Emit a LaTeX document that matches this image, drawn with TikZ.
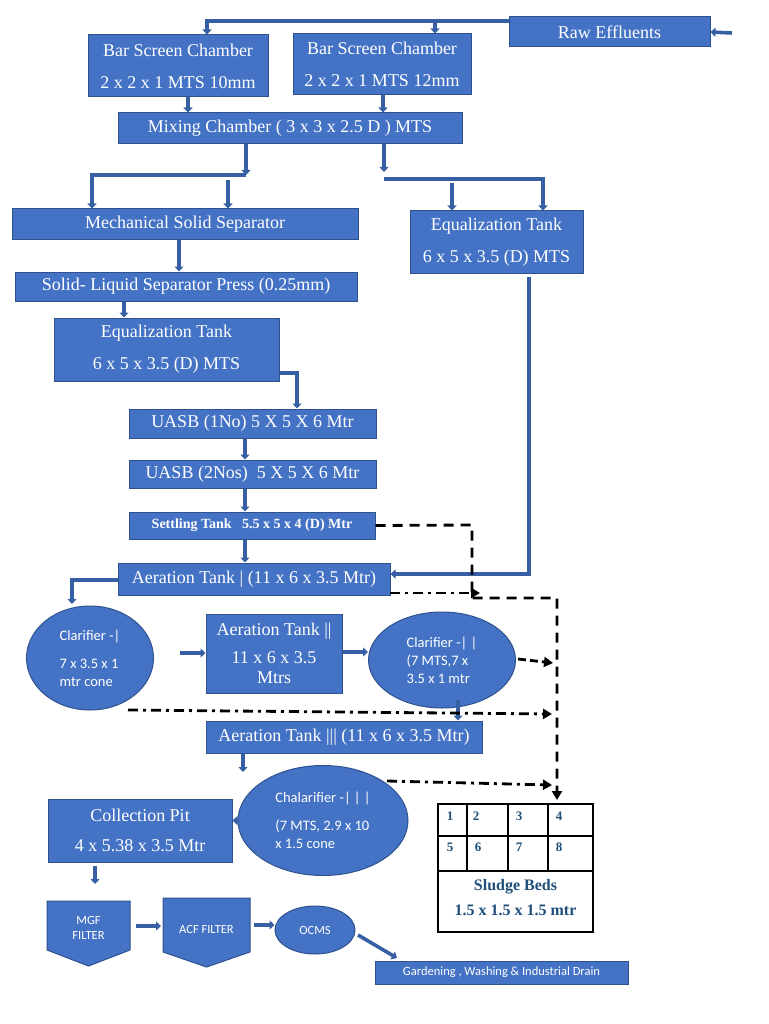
\documentclass[tikz,border=0pt]{standalone}
\usepackage{fontspec}
\setmainfont{Liberation Serif}
\newfontfamily\sansf{Carlito}
\usetikzlibrary{arrows.meta,shapes.geometric,calc}
\definecolor{bfill}{HTML}{4472C4}
\definecolor{bedge}{HTML}{2F528F}
\definecolor{dblue}{HTML}{1F4E79}
\begin{document}
\begin{tikzpicture}[x=1pt,y=-1pt,
  box/.style={draw=bedge,line width=1pt,fill=bfill,text=white,font=\fontsize{18}{20}\selectfont,inner sep=0pt,align=center},
  ell/.style={ellipse,draw=bedge,line width=1pt,fill=bfill,text=white,font=\sansf\fontsize{14.5}{16}\selectfont,inner sep=0pt,align=left},
  fl/.style={draw=bedge!60!bfill,line width=3.6pt,-{Triangle[length=5pt,width=9pt]}},
  da/.style={black,line width=2.8pt,dash pattern=on 10pt off 7pt,-{Triangle[length=9pt,width=10pt]}},
  dd/.style={black,line width=2.8pt,dash pattern=on 10pt off 5pt on 3pt off 5pt,-{Triangle[length=9pt,width=10pt]}}]
\useasboundingbox (0,0) rectangle (768,1024);
\fill[white] (0,0) rectangle (768,1024);
% boxes
\node[box,minimum width=201,minimum height=30] (raw) at (609.5,32) {Raw Effluents};
\node[box,minimum width=180,minimum height=62] (b1) at (178,66) {Bar Screen Chamber\\[12pt]2 x 2 x 1 MTS 10mm};
\node[box,minimum width=178,minimum height=61] (b2) at (382,64.5) {Bar Screen Chamber\\[12pt]2 x 2 x 1 MTS 12mm};
\node[box,minimum width=344,minimum height=31] (mix) at (290,128.5) {Mixing Chamber ( 3 x 3 x 2.5 D ) MTS};
\node[box,minimum width=346,minimum height=30] (mss) at (185,224) {Mechanical Solid Separator};
\node[box,minimum width=173,minimum height=62] (eqr) at (496.5,242) {Equalization Tank\\[12pt]6 x 5 x 3.5 (D) MTS};
\node[box,minimum width=342,minimum height=29] (sl) at (186,286.5) {Solid- Liquid Separator Press (0.25mm)};
\node[box,minimum width=225,minimum height=63] (eql) at (166.5,349.5) {Equalization Tank\\[12pt]6 x 5 x 3.5 (D) MTS};
\node[box,minimum width=247,minimum height=29] (u1) at (252.5,423.5) {UASB (1No) 5 X 5 X 6 Mtr};
\node[box,minimum width=247,minimum height=28] (u2) at (252.5,474) {UASB (2Nos)\ \ 5 X 5 X 6 Mtr};
\node[box,minimum width=246,minimum height=27,font=\bfseries\fontsize{14}{16}\selectfont] (st) at (252,525.5) {Settling Tank\ \ \ 5.5 x 5 x 4 (D) Mtr};
\node[box,minimum width=272,minimum height=32] (a1) at (254,579) {Aeration Tank | (11 x 6 x 3.5 Mtr)};
\node[ell,minimum width=127,minimum height=104] (c1) at (90,658) {Clarifier -|\\[12pt]7 x 3.5 x 1\\[2pt]mtr cone};
\node[box,minimum width=136,minimum height=79] (a2) at (274,653.5) {Aeration Tank ||\\[8pt]11 x 6 x 3.5\\Mtrs};
\node[ell,minimum width=147,minimum height=96] (c2) at (442,660) {Clarifier -| |\\[2pt](7 MTS,7 x\\[2pt]3.5 x 1 mtr};
\node[box,minimum width=276,minimum height=32] (a3) at (344,737) {Aeration Tank ||| (11 x 6 x 3.5 Mtr)};
\node[ell,minimum width=170,minimum height=110] (ch) at (323,820.5) {Chalarifier -| | |\\[12pt](7 MTS, 2.9 x 10\\[2pt]x 1.5 cone};
\node[box,minimum width=184,minimum height=63] (cp) at (140,830.5) {Collection Pit\\[10pt]4 x 5.38 x 3.5 Mtr};
\fill[bfill,draw=bedge,line width=1pt] (47,901) -- (130,901) -- (130,950) -- (88.5,966) -- (47,950) -- cycle;
\node[text=white,font=\sansf\fontsize{12.5}{15}\selectfont,align=center] (mgf) at (88.5,928) {MGF\\FILTER};
\fill[bfill,draw=bedge,line width=1pt] (163,898) -- (250,898) -- (250,952) -- (206.5,967) -- (163,952) -- cycle;
\node[text=white,font=\sansf\fontsize{12.5}{15}\selectfont] (acf) at (206.5,929) {ACF FILTER};
\node[ell,minimum width=80,minimum height=48,align=center,font=\sansf\fontsize{12.5}{15}\selectfont] (oc) at (315,930) {OCMS};
\node[box,minimum width=253,minimum height=23,font=\sansf\fontsize{12.5}{15}\selectfont] (gd) at (501.5,972.5) {Gardening , Washing \& Industrial Drain};
% sludge beds
\draw[line width=2pt] (438,804) rectangle (593,932);
\draw[line width=2pt] (438,836) -- (593,836) (438,871) -- (593,871)
  (467,804) -- (467,871) (508,804) -- (508,871) (548,804) -- (548,871);
\foreach \t/\x/\y in {1/450/816,2/476/816,3/519/816,4/559/816,5/450/847,6/478/847,7/519/847,8/559/847}
  \node[font=\bfseries\fontsize{13}{15}\selectfont,text=dblue] (n\t) at (\x,\y) {\t};
\node[font=\bfseries\fontsize{16}{19}\selectfont,text=dblue,align=center] (sbt) at (515.5,898) {Sludge Beds\\[6pt]1.5 x 1.5 x 1.5 mtr};
% flow arrows
\draw[fl] (732,33) -- (raw.east);
\draw[fl] (raw.west|-0,21) -- (207,21) -- (207,0|-b1.north);
\draw[fl] (435,21) -- (435,0|-b2.north);
\draw[fl] (188,0|-b1.south) -- (188,0|-mix.north);
\draw[fl] (383,0|-b2.south) -- (383,0|-mix.north);
\draw[fl] (246,0|-mix.south) -- (246,175);
\draw[fl] (246,175) -- (92,175) -- (92,0|-mss.north);
\draw[fl] (228,180) -- (228,0|-mss.north);
\draw[fl] (384,0|-mix.south) -- (384,172);
\draw[fl] (384,179) -- (543,179) -- (543,0|-eqr.north);
\draw[fl] (452,183) -- (452,0|-eqr.north);
\draw[fl] (179,0|-mss.south) -- (179,0|-sl.north);
\draw[fl] (124,0|-sl.south) -- (124,0|-eql.north);
\draw[fl] (eql.east|-0,373) -- (297,373) -- (297,0|-u1.north);
\draw[fl] (245,0|-u1.south) -- (245,0|-u2.north);
\draw[fl] (245,0|-u2.south) -- (245,0|-st.north);
\draw[fl] (245,0|-st.south) -- (245,0|-a1.north);
\draw[fl] (529,277) -- (529,574) -- (a1.east|-0,574);
\draw[fl] (a1.west|-0,580) -- (72,580) -- (72,604);
\draw[fl] (180,653) -- (a2.west|-0,653);
\draw[fl] (a2.east|-0,652) -- (c2.west|-0,652);
\draw[fl] (458,700) -- (458,0|-a3.north);
\draw[fl] (243,0|-a3.south) -- (243,772);
\draw[fl] (ch.west) -- (cp.east|-ch.west);
\draw[fl] (95,866) -- (95,884);
\draw[fl] (136,926) -- (161,926);
\draw[fl] (254,925) -- (oc.west|-0,925);
\draw[fl] (358,935) -- (397,958);
% dashed
\draw[da] (st.east) -- (472,525) -- (472,598) -- (557,598) -- (557,800);
\draw[dd] (390,593) -- (480,593);
\draw[da,dash pattern=on 8pt off 4pt] (518,659) -- (553,663);
\draw[dd] (128,710) -- (552,714);
\draw[dd] (387,781) -- (552,785);
\end{tikzpicture}
\end{document}
